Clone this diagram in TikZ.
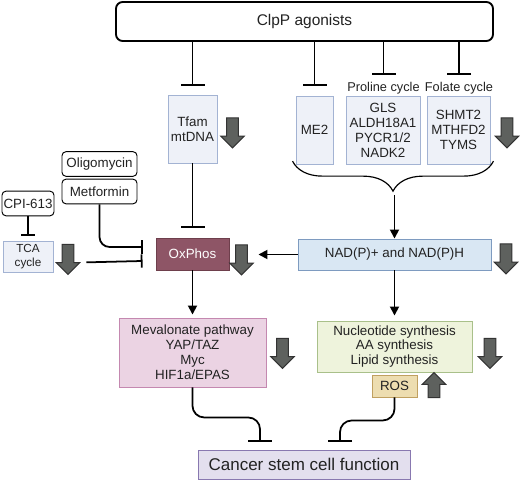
\documentclass[tikz,border=0pt]{standalone}
\usepackage{fontspec}
\setmainfont{Liberation Sans}
\usepackage{xcolor}
\usetikzlibrary{shapes.geometric, shapes.arrows, arrows.meta, decorations.pathreplacing}
\definecolor{genefill}{HTML}{EEF1F8}
\definecolor{geneline}{HTML}{A3B3D3}
\definecolor{nadfill}{HTML}{D9E7F3}
\definecolor{nadline}{HTML}{7E9BC0}
\definecolor{oxfill}{HTML}{8E5566}
\definecolor{oxline}{HTML}{6E3F4C}
\definecolor{mevafill}{HTML}{EBD3E3}
\definecolor{mevaline}{HTML}{C488B0}
\definecolor{nuclfill}{HTML}{EEF3DC}
\definecolor{nuclline}{HTML}{A9C08A}
\definecolor{rosfill}{HTML}{EDDDB0}
\definecolor{rosline}{HTML}{C0A060}
\definecolor{cscfill}{HTML}{E3DFEE}
\definecolor{cscline}{HTML}{8878B0}
\definecolor{arrowgray}{HTML}{5E615E}
\definecolor{arrowline}{HTML}{333333}
\definecolor{ink}{HTML}{222222}
\tikzstyle{agonist} = [rectangle, rounded corners=0.2cm, draw=black, line width=1.6pt, minimum width=11.31cm, minimum height=1.17cm, font=\fontsize{13.2}{15}\selectfont]
\tikzstyle{gene} = [rectangle, draw=geneline, fill=genefill, line width=0.8pt, align=center, inner sep=0pt, minimum height=2.04cm, font=\fontsize{11.4}{12.75}\selectfont]
\tikzstyle{cyclelabel} = [inner sep=0pt, font=\fontsize{10.9}{12.75}\selectfont]
\tikzstyle{drug} = [rectangle, rounded corners=0.12cm, draw=black, line width=0.8pt, fill=white, inner sep=0pt, minimum height=0.74cm, font=\fontsize{11.4}{12.75}\selectfont]
\tikzstyle{pathway} = [rectangle, line width=0.8pt, align=center, inner sep=0pt, font=\fontsize{11.4}{12.75}\selectfont]
\tikzstyle{down} = [single arrow, draw=arrowline, fill=arrowgray, line width=0.8pt, rotate=-90, minimum height=0.9cm, inner sep=0.16cm, single arrow head extend=0.18cm]
\tikzstyle{up} = [down, rotate=180, minimum height=0.75cm]
\tikzstyle{arrow} = [line width=1.5pt, -{Triangle[length=0.27cm, width=0.27cm]}]
\tikzstyle{inhibit} = [line width=1.5pt, -{Bar[width=0.72cm]}]
\tikzstyle{inhibitsm} = [line width=1.5pt, -{Bar[width=0.4cm]}]
\tikzstyle{brace} = [line width=1pt, decorate, decoration={brace, mirror, amplitude=0.9cm}]

\begin{document}
\begin{tikzpicture}[x=0.03cm, y=-0.03cm, text=ink]
\useasboundingbox (0,0) rectangle (520,481);

\node at (304.5,21.5) (clpp) [agonist] {ClpP agonists};

\node at (192.5,129) (tfam) [gene, minimum width=1.47cm] {Tfam\\mtDNA};
\node at (314.5,130) (me2) [gene, minimum width=1.11cm] {ME2};
\node at (383,130) (proline) [gene, minimum width=2.22cm] {GLS\\ALDH18A1\\PYCR1/2\\NADK2};
\node at (458.5,130) (folate) [gene, minimum width=1.89cm] {SHMT2\\MTHFD2\\TYMS};
\node at (383.5,88) (prolinelbl) [cyclelabel] {Proline cycle};
\node at (459,88) (folatelbl) [cyclelabel] {Folate cycle};

\node at (99.5,164) (oligo) [drug, minimum width=2.25cm] {Oligomycin};
\node at (99.5,191.5) (metformin) [drug, minimum width=2.25cm] {Metformin};
\node at (28,203.5) (cpi) [drug, minimum width=1.56cm] {CPI-613};
\node at (28,256.5) (tca) [gene, minimum width=1.5cm, minimum height=0.93cm, font=\fontsize{10}{11.5}\selectfont] {TCA\\cycle};

\node at (192.5,254) (oxphos) [pathway, draw=oxline, fill=oxfill, text=white, minimum width=2.19cm, minimum height=0.96cm] {OxPhos};
\node at (394.5,254.5) (nad) [pathway, draw=nadline, fill=nadfill, minimum width=5.79cm, minimum height=0.93cm] {NAD(P)+ and NAD(P)H};
\node at (192.5,352.5) (meva) [pathway, draw=mevaline, fill=mevafill, minimum width=4.41cm, minimum height=2.07cm] {Mevalonate pathway\\YAP/TAZ\\Myc\\HIF1a/EPAS};
\node at (394.5,346.5) (nucl) [pathway, draw=nuclline, fill=nuclfill, minimum width=4.65cm, minimum height=1.53cm] {Nucleotide synthesis\\AA synthesis\\Lipid synthesis};
\node at (394.5,386) (ros) [pathway, draw=rosline, fill=rosfill, minimum width=1.35cm, minimum height=0.66cm] {ROS};
\node at (304,464.5) (csc) [pathway, draw=cscline, fill=cscfill, minimum width=6.36cm, minimum height=0.87cm, font=\fontsize{14.5}{16}\selectfont] {Cancer stem cell function};

% grey trend arrows
\node at (232.5,130) (tfamdown) [down] {};
\node at (507,130) (folatedown) [down] {};
\node at (68,256.5) (tcadown) [down] {};
\node at (241.5,257) (oxdown) [down] {};
\node at (506,256) (naddown) [down] {};
\node at (282.5,350.5) (mevadown) [down] {};
\node at (490,350.5) (nucldown) [down] {};
\node at (434,388) (rosup) [up] {};

\draw [inhibit, shorten >=0.27cm] (clpp.south -| tfam) -- (tfam);
\draw [inhibit, shorten >=0.3cm] (clpp.south -| me2) -- (me2);
\draw [inhibit, shorten >=0.21cm] (clpp.south -| prolinelbl) -- (prolinelbl);
\draw [inhibit, shorten >=0.21cm] (clpp.south -| folatelbl) -- (folatelbl);

\draw [brace] ([xshift=-0.09cm, yshift=0.1cm]me2.south west) -- ([xshift=0.09cm, yshift=0.1cm]folate.south east);
\coordinate (bracetip) at (394.5,195);
\draw [arrow] (bracetip) -- (nad);

\draw [inhibit, shorten >=0.3cm] (tfam) -- (oxphos);
\draw [inhibitsm, shorten >=0.15cm] (cpi) -- (tca);
\draw [inhibitsm, rounded corners=0.3cm, shorten >=0.39cm] (metformin) |- ([yshift=0.21cm]oxphos.west);
\draw [inhibitsm, shorten <=0.99cm, shorten >=0.39cm] ([yshift=-0.2cm]tca.east) -- ([yshift=-0.2cm]oxphos.west);
\draw [arrow, shorten >=0.87cm] (nad.west) -- (nad.west -| oxphos.east);

\draw [arrow, shorten >=0.09cm] (oxphos) -- (meva);
\draw [arrow, shorten >=0.15cm] (nad) -- (nucl);

\draw [inhibit, rounded corners=0.35cm, shorten >=0.24cm] (meva.south) -- ++(0,-0.9cm) -| ([xshift=-1.32cm]csc.north);
\draw [inhibit, rounded corners=0.35cm, shorten >=0.24cm] (ros.south) -- ++(0,-0.69cm) -| ([xshift=1.08cm]csc.north);

\end{tikzpicture}
\end{document}
